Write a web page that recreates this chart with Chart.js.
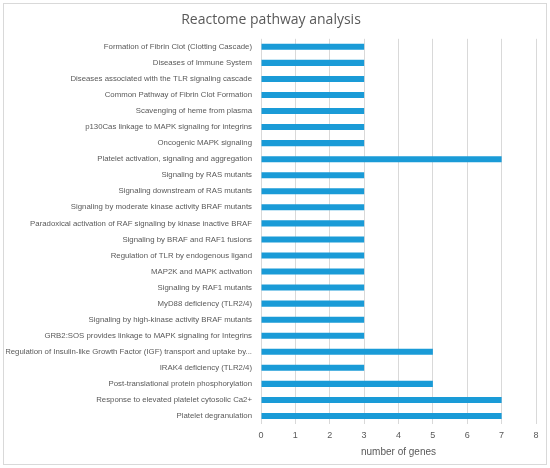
<!DOCTYPE html>
<html>
<head>
<meta charset="utf-8">
<script src="https://cdn.jsdelivr.net/npm/chart.js@4/dist/chart.umd.min.js"></script>
<style>
    html, body { margin: 0; padding: 0; background: #fff; }
    #frame {
        position: absolute; left: 3px; top: 3px;
        width: 542px; height: 460px;
        border: 1px solid #d9d9d9;
    }
    #wrap { position: absolute; left: 0; top: 0; width: 550px; height: 468px; }
</style>
</head>
<body>
<div id="frame"></div>
<div id="wrap"><canvas id="chart-reactome"></canvas></div>
<script>
const pathways = [
    'Formation of Fibrin Clot (Clotting Cascade)',
    'Diseases of Immune System',
    'Diseases associated with the TLR signaling cascade',
    'Common Pathway of Fibrin Clot Formation',
    'Scavenging of heme from plasma',
    'p130Cas linkage to MAPK signaling for integrins',
    'Oncogenic MAPK signaling',
    'Platelet activation, signaling and aggregation',
    'Signaling by RAS mutants',
    'Signaling downstream of RAS mutants',
    'Signaling by moderate kinase activity BRAF mutants',
    'Paradoxical activation of RAF signaling by kinase inactive BRAF',
    'Signaling by BRAF and RAF1 fusions',
    'Regulation of TLR by endogenous ligand',
    'MAP2K and MAPK activation',
    'Signaling by RAF1 mutants',
    'MyD88 deficiency (TLR2/4)',
    'Signaling by high-kinase activity BRAF mutants',
    'GRB2:SOS provides linkage to MAPK signaling for Integrins',
    'Regulation of Insulin-like Growth Factor (IGF) transport and uptake by...',
    'IRAK4 deficiency (TLR2/4)',
    'Post-translational protein phosphorylation',
    'Response to elevated platelet cytosolic Ca2+',
    'Platelet degranulation',
];

const geneCounts = [3, 3, 3, 3, 3, 3, 3, 7, 3, 3, 3, 3, 3, 3, 3, 3, 3, 3, 3, 5, 3, 5, 7, 7];

const xTicks = [0, 1, 2, 3, 4, 5, 6, 7, 8];

const textMuted = '#595959';
const gridColor = '#d9d9d9';
const labelFont = { family: '"Liberation Sans", Arial, sans-serif', size: 7.8 };

new Chart(document.getElementById('chart-reactome'), {
    type: 'bar',
    data: {
        labels: pathways,
        datasets: [{
            label: 'number of genes',
            data: geneCounts,
            backgroundColor: '#1a9bd7',
            barPercentage: 0.38,
            categoryPercentage: 1,
        }],
    },
    options: {
        indexAxis: 'y',
        responsive: true,
        maintainAspectRatio: false,
        animation: false,
        layout: { padding: { left: 6, right: 14, top: 0, bottom: 11 } },
        scales: {
            x: {
                min: xTicks[0],
                max: xTicks[xTicks.length - 1],
                afterBuildTicks: (scale) => { scale.ticks = xTicks.map((v) => ({ value: v })); },
                ticks: { color: textMuted, font: { ...labelFont, size: 9, lineHeight: 1 }, padding: 7 },
                grid: { color: gridColor, drawTicks: false },
                border: { display: false },
                title: {
                    display: true,
                    text: 'number of genes',
                    color: textMuted,
                    font: { ...labelFont, size: 10, lineHeight: 1 },
                    padding: { top: 0, bottom: 0 },
                },
            },
            y: {
                ticks: { color: textMuted, font: labelFont, padding: 9, autoSkip: false },
                grid: { display: false, drawTicks: false },
                border: { display: false },
                afterFit: (scale) => { scale.width = 255; },
            },
        },
        plugins: {
            legend: { display: false },
            tooltip: { enabled: false },
            title: {
                display: true,
                text: 'Reactome pathway analysis',
                color: textMuted,
                font: { family: '"Open Sans", sans-serif', size: 14, weight: 'normal' },
                padding: { top: 12, bottom: 10 },
            },
        },
    },
});
</script>
</body>
</html>
